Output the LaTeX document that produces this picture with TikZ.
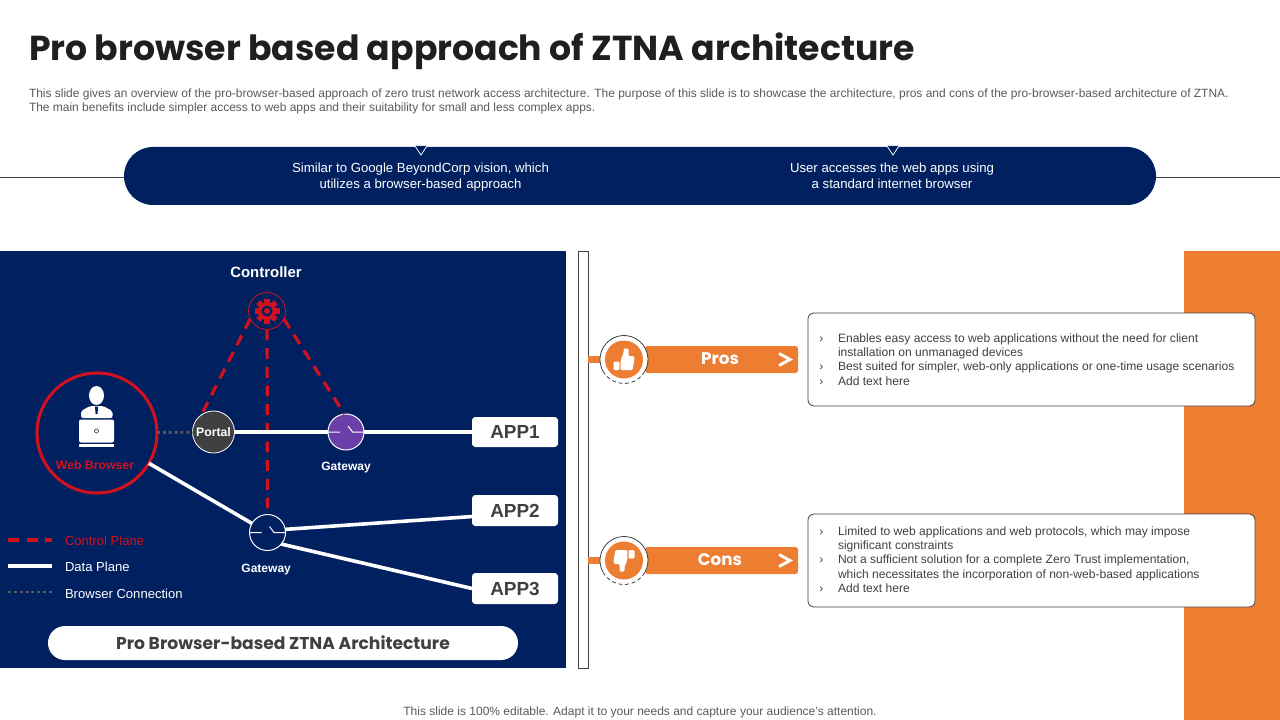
\documentclass[tikz,border=0pt]{standalone}
\usepackage{fontspec}
\setmainfont{Liberation Sans}
\newfontfamily\headfont{Poppins}
\usetikzlibrary{positioning}
\definecolor{navy}{HTML}{002060}
\definecolor{ored}{HTML}{ED7D31}
\definecolor{cred}{HTML}{D0121F}
\definecolor{ink}{HTML}{404040}
\definecolor{pale}{HTML}{595959}
\definecolor{gatepurple}{HTML}{6B3FA8}
\def\px{0.75pt}
\newcommand{\bul}{\llap{›\hspace{11pt}}}
\newcommand{\fs}[1]{\fontsize{#1}{#1}\selectfont}

\begin{document}
\begin{tikzpicture}[x=0.75pt,y=-0.75pt,semithick]
  \tikzstyle{every node}=[inner sep=0pt,outer sep=0pt]
  \tikzstyle{ctrlline}=[cred,line width=2.4pt,dash pattern=on 8.2pt off 5.8pt]
  \tikzstyle{dataline}=[white,line width=2.7pt]
  \tikzstyle{dotline}=[pale,line width=2.2pt,dash pattern=on 2.2pt off 2.2pt]
  \tikzstyle{gatenode}=[circle,draw=white,line width=0.75pt,minimum size=36*\px]
  \tikzstyle{gatesym}=[white,line width=0.75pt]
  \tikzstyle{appbox}=[fill=white,rounded corners=2.5pt,minimum width=86*\px,
                      text=ink,font=\bfseries\fs{14.2pt}]
  \tikzstyle{smalllabel}=[white,font=\bfseries\fs{9pt}]
  \tikzstyle{legendlabel}=[anchor=west,font=\fs{9.8pt}]
  \tikzstyle{infobox}=[draw=ink,line width=0.6pt,fill=white,rounded corners=4.5pt,
                       minimum width=447*\px,minimum height=93*\px]
  \tikzstyle{infotext}=[anchor=west,align=left,text=ink,font=\fontsize{9.05pt}{10.75pt}\selectfont]
  \tikzstyle{bannertext}=[white,align=center,font=\fontsize{9.9pt}{12pt}\selectfont]
  \tikzstyle{tagbar}=[fill=ored,rounded corners=2pt,minimum width=153*\px,minimum height=27*\px]
  \tikzstyle{tagtext}=[white,font=\headfont\bfseries\fs{12.6pt}]
  \tikzstyle{ringnode}=[circle,fill=white,minimum size=48*\px]
  \tikzstyle{dotnode}=[circle,fill=ored,minimum size=38*\px]
  \tikzstyle{chevron}=[white,line width=2.2pt]
  \tikzstyle{thumbfill}=[fill=white,rounded corners=0.9pt]

  \useasboundingbox (0,0) rectangle (1280,720);

  % header
  \node[anchor=west,text=black!88,font=\headfont\bfseries\fs{26pt}] (title) at (29,51.5)
    {Pro browser based approach of ZTNA architecture};
  \node[anchor=north west,align=left,text=pale,font=\fontsize{8.98pt}{10.6pt}\selectfont] (intro) at (29,88.5)
    {This slide gives an overview of the pro-browser-based approach of zero trust network access architecture. The purpose of this slide is to showcase the architecture, pros and cons of the pro-browser-based architecture of ZTNA.\\
     The main benefits include simpler access to web apps and their suitability for small and less complex apps.};

  % banner
  \coordinate (lineL) at (0,177);
  \coordinate (lineR) at (1280,177);
  \node[fill=navy,rounded corners=21.7pt,minimum width=1032*\px,minimum height=58*\px] (banner) at (640,176) {};
  \draw[ink,line width=0.6pt] (lineL) -- (banner.west |- lineL);
  \draw[ink,line width=0.6pt] (banner.east |- lineR) -- (lineR);
  \foreach \mx in {421,893}
    \draw[white,fill=navy,line width=0.6pt] (\mx-6,146) -- (\mx,155) -- (\mx+6,146);
  \node[bannertext] (bannerA) at (420.5,177.5)
    {\strut Similar to Google BeyondCorp vision, which\\utilizes a browser-based\hspace{3.4pt}approach\strut};
  \node[bannertext] (bannerB) at (892,177.5)
    {\strut User accesses the web apps using\\a standard internet browser\strut};

  % left panel
  \node[fill=navy,minimum width=566*\px,minimum height=417*\px] (panel) at (283,459.5) {};
  \node[white,font=\bfseries\fs{11.2pt}] (ctrllabel) at (266,272) {Controller};

  \node[circle,draw=cred,line width=0.6pt,minimum size=37*\px] (ctrl) at (267,311) {};
  \foreach \ang in {0,45,...,315}
    \fill[cred,rotate around={\ang:(ctrl.center)}] (259.5,311-2.7) rectangle (254.5,311+2.7);
  \fill[cred] (ctrl.center) circle[radius=9];
  \fill[navy] (ctrl.center) circle[radius=5.5];
  \fill[cred] (ctrl.center) circle[radius=3];

  \node[circle,draw=cred,line width=2.3pt,minimum size=120*\px] (browser) at (97,433) {};
  \fill[white] (96.5,395.5) ellipse[x radius=7.5,y radius=9.5];
  \fill[white,rounded corners=1.5pt] (81,418) -- (81,411) -- (90,406) -- (103,406) -- (112.5,411) -- (112.5,418) -- cycle;
  \fill[navy] (95,406.5) -- (98,406.5) -- (97.6,414) -- (95.6,414) -- cycle;
  \fill[white,rounded corners=1.5pt] (79,442.5) rectangle (114,419.5);
  \fill[white] (79,444) rectangle (114,447);
  \draw[ink,line width=0.5pt] (96.5,431) circle[radius=2];
  \node[cred,font=\bfseries\fs{9.2pt}] (browserlabel) at (95,465) {Web Browser};

  \node[circle,fill=ink,draw=white,line width=0.6pt,minimum size=42*\px,
        text=white,font=\bfseries\fs{9.2pt}] (portal) at (213.5,432) {Portal};
  \node[gatenode,fill=gatepurple] (gwa) at (346,432) {};
  \node[gatenode,fill=navy] (gwb) at (267.5,532.5) {};
  \node[smalllabel] (gwalabel) [below=9pt of gwa] {Gateway};
  \node[smalllabel] (gwblabel) [below=10pt of gwb,xshift=-1pt] {Gateway};

  \node[appbox,minimum height=30*\px] (app1) at (515,432) {APP1};
  \node[appbox,minimum height=31*\px] (app2) at (515,510.5) {APP2};
  \node[appbox,minimum height=31*\px] (app3) at (515,588.5) {APP3};

  \draw[ctrlline] (ctrl.205) -- (portal.125);
  \draw[ctrlline] (ctrl.-25) -- (gwa.95);
  \draw[ctrlline] (ctrl) -- (gwb);
  \draw[dotline] (browser) -- (portal);
  \draw[dataline] (portal) -- (gwa);
  \draw[dataline] (gwa) -- (app1);
  \draw[dataline] (browser) -- (gwb);
  \draw[dataline] (gwb.10) -- (app2.188);
  \draw[dataline] (gwb.-40) -- (app3.west);
  \foreach \gw in {gwa,gwb} {
    \draw[gatesym,shift={(\gw.center)}] (-18,0) -- (-6,0) (2,-6) -- (6.5,0) -- (18,0);
  }

  % legend
  \coordinate (legAa) at (8,540);  \coordinate (legAb) at (52,540);
  \coordinate (legBa) at (8,566);  \coordinate (legBb) at (52,566);
  \coordinate (legCa) at (8,592);  \coordinate (legCb) at (52,592);
  \draw[ctrlline] (legAa) -- (legAb);
  \draw[dataline] (legBa) -- (legBb);
  \draw[dotline] (legCa) -- (legCb);
  \node[legendlabel,cred] (legA) at (65,540.5) {Control Plane};
  \node[legendlabel,white] (legB) at (65,566.5) {Data Plane};
  \node[legendlabel,white] (legC) at (65,593.5) {Browser Connection};

  \node[fill=white,rounded corners=12.7pt,minimum width=470*\px,minimum height=34*\px,
        text=ink,font=\headfont\bfseries\fs{12.85pt}] (panellabel) at (283,643) {Pro Browser-based ZTNA Architecture};

  % right side
  \node[draw=ink,line width=0.75pt,fill=white,minimum width=10*\px,minimum height=417*\px] (strip) at (583,459.5) {};
  \node[fill=ored,minimum width=96*\px,minimum height=469*\px] (sideband) at (1232,485.5) {};

  \node[infobox] (probox) at (1031.5,359.5) {};
  \node[infobox] (conbox) at (1031.5,560.5) {};
  \node[infotext] (protext) at (838,359.5)
    {\bul Enables easy access to web applications without the need for client\\
     installation on unmanaged devices\\
     \bul Best suited for simpler, web-only applications or one-time usage scenarios\\
     \bul Add text here};
  \node[infotext] (context) at (838,559.5)
    {\bul Limited to web applications and web protocols, which may impose\\
     significant constraints\\
     \bul Not a sufficient solution for a complete Zero Trust implementation,\\
     which necessitates the incorporation of non-web-based applications\\
     \bul Add text here};

  \foreach \nm/\txt/\yy in {pro/Pros/359.5,con/Cons/560.5} {
    \node[tagbar] (\nm bar) at (721.5,\yy) {};
    \node[tagtext] (\nm tag) at (720,\yy-1) {\txt};
    \draw[chevron] (779,\yy-6) -- (790,\yy) -- (779,\yy+6);
    \node[ringnode] (\nm ring) at (624,\yy) {};
    \draw[ored,line width=5.25pt] (strip.east |- \nm ring) -- (\nm ring);
    \draw[ink,line width=0.6pt] (\nm ring.-30) arc[start angle=30,end angle=-210,radius=24];
    \draw[ink,line width=0.6pt,dash pattern=on 3pt off 2pt] (\nm ring.-30) arc[start angle=30,end angle=150,radius=24];
    \node[dotnode] (\nm dot) at (\nm ring) {};
  }

  % thumbs
  \begin{scope}[shift={(prodot.center)}]
    \fill[thumbfill] (-10.5,2) rectangle (-4.5,10.5);
    \fill[thumbfill] (-3.3,0) -- (-0.5,-6) -- (-0.5,-11) -- (4.5,-11) -- (4.5,-3.5) -- (10,-3.5) -- (10.5,0) -- (8.5,10.5) -- (-3.3,10.5) -- cycle;
  \end{scope}
  \begin{scope}[shift={(condot.center)},rotate=180]
    \fill[thumbfill] (-10.5,2) rectangle (-4.5,10.5);
    \fill[thumbfill] (-3.3,0) -- (-0.5,-6) -- (-0.5,-11) -- (4.5,-11) -- (4.5,-3.5) -- (10,-3.5) -- (10.5,0) -- (8.5,10.5) -- (-3.3,10.5) -- cycle;
  \end{scope}

  \node[text=pale,font=\fs{9pt}] (footer) at (640,712)
    {This slide is 100\% editable. Adapt it to your needs and capture your audience's attention.};
\end{tikzpicture}
\end{document}
